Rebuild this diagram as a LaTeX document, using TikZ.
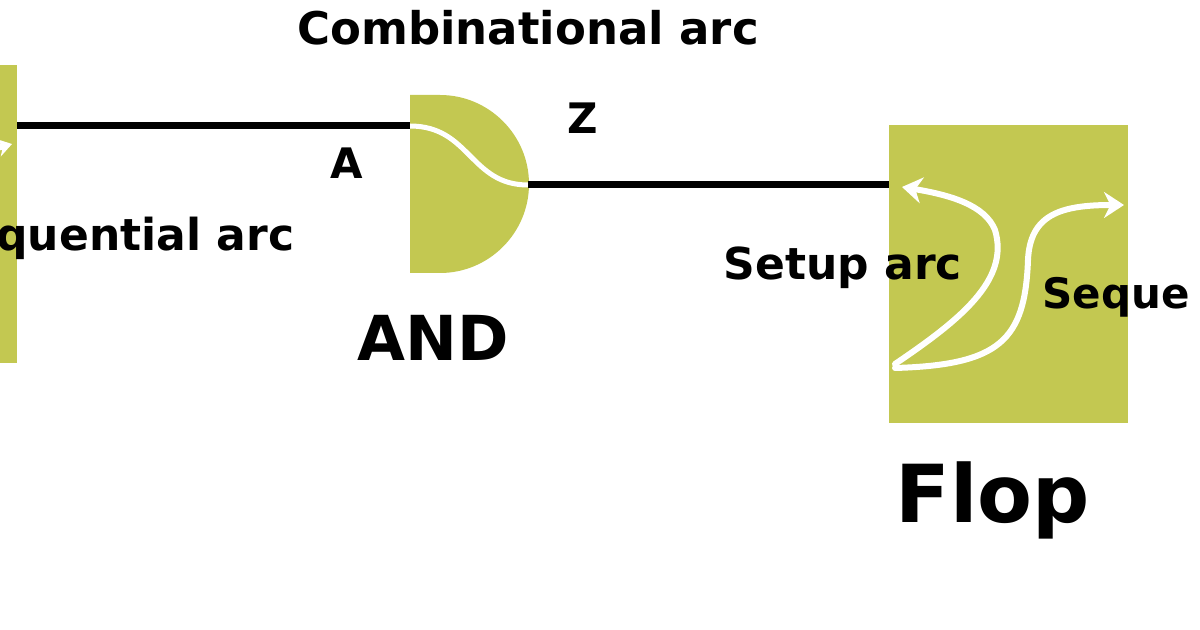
\documentclass[tikz,border=0pt]{standalone}
\usepackage{fontspec}
\setmainfont{DejaVu Sans}
\usetikzlibrary{arrows.meta}
\definecolor{olive}{HTML}{C3C851}
\begin{document}
\begin{tikzpicture}[x=0.5pt,y=-0.5pt,
  blk/.style={fill=olive,draw=none},
  wire/.style={line width=3.5pt,black},
  arcw/.style={white,line width=3pt,line cap=round},
  lbl/.style={font=\bfseries\fontsize{22}{26}\selectfont,inner sep=0pt},
  big/.style={font=\bfseries\fontsize{31}{36}\selectfont,inner sep=0pt}]
\useasboundingbox (0,0) rectangle (1200,630);
\fill[white] (0,0) rectangle (1200,630);
% left flop
\fill[blk] (0,65) rectangle (17,363);
\coordinate (lf) at (17,126);
\draw[arcw,-{Stealth[length=7pt,width=9pt]}] (-10,150) -- (12,144);
% AND gate
\fill[blk] (410,95) -- (440,95) .. controls (489,95) and (529,135) .. (529,184) .. controls (529,233) and (489,273) .. (440,273) -- (410,273) -- cycle;
\coordinate (ain) at (410,126);
\coordinate (aout) at (528,185);
\draw[arcw,line width=2.5pt] (ain) .. controls (470,126) and (470,185) .. (aout);
% flop
\fill[blk] (889,125) rectangle (1128,423);
\coordinate (fin) at (889,185);
\draw[arcw,-{Stealth[length=10pt,width=13pt]}] (895,364) .. controls (960,320) and (1010,280) .. (995,230) .. controls (985,205) and (950,195) .. (902,187);
\draw[arcw,-{Stealth[length=10pt,width=13pt]}] (895,368) .. controls (1000,365) and (1025,340) .. (1028,260) .. controls (1030,215) and (1060,205) .. (1124,205);
% wires
\draw[wire] (lf) -- (ain);
\draw[wire] (aout) -- (fin);
% labels
\node[lbl,font=\bfseries\fontsize{22.5}{26}\selectfont] (comb) at (528,28) {Combinational arc};
\node[lbl,font=\bfseries\fontsize{21}{26}\selectfont] (z) at (583,118) {Z};
\node[lbl,font=\bfseries\fontsize{21}{26}\selectfont] (a) at (347,163) {A};
\node[lbl,anchor=west] (seq1) at (-4,238) {quential arc};
\node[big] (and) at (433,338) {AND};
\node[lbl] (setup) at (843,268) {Setup arc};
\node[lbl,anchor=west,font=\bfseries\fontsize{21}{26}\selectfont] (seq2) at (1042,297) {Seque};
\node[big,font=\bfseries\fontsize{40}{46}\selectfont] (flop) at (993,500) {Flop};
\end{tikzpicture}
\end{document}
